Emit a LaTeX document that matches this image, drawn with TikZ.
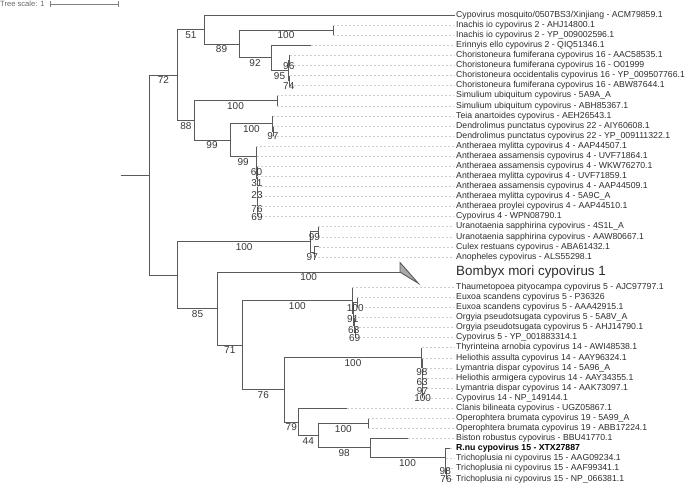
\documentclass[tikz,border=0pt]{standalone}
\usepackage{fontspec}
\setmainfont{Liberation Sans}
\usetikzlibrary{calc}

\definecolor{branchc}{RGB}{90,90,90}
\definecolor{leafc}{RGB}{45,45,45}
\definecolor{suppc}{RGB}{55,55,55}
\definecolor{dotc}{RGB}{205,205,205}
\definecolor{tric}{RGB}{170,170,170}

\begin{document}
\begin{tikzpicture}[x=1pt, y=-1pt,
    branch/.style={draw=branchc, line width=0.9pt},
    leader/.style={draw=dotc, line width=0.5pt, dash pattern=on 2pt off 2pt, shorten >=2pt},
    leaf/.style={anchor=west, inner sep=0pt, text=leafc, font=\fontsize{8.7}{9.5}\selectfont},
    bs/.style={below=1pt, inner sep=0.5pt, text=suppc, font=\fontsize{10}{10}\selectfont}]
    \useasboundingbox (0,0) rectangle (685,485);

    % scale bar
    \coordinate (sb1) at (50,4);
    \coordinate (sb2) at (118,4);
    \node[anchor=west, inner sep=0pt, text=gray!80!black, font=\fontsize{7.6}{8}\selectfont] (ts) at (0,4) {Tree scale: 1};
    \draw[gray, line width=0.5pt, |-|] (sb1) -- (sb2);

    % internal nodes
    \coordinate (root0) at (120.7,175.1);
    \coordinate (root) at (149,175.1);
    \coordinate (A) at (177.7,75.0);
    \coordinate (C) at (204,29.5);
    \coordinate (D) at (239,44.0);
    \coordinate (In) at (333,30.1);
    \coordinate (E) at (271,57.9);
    \coordinate (F) at (288,70.5);
    \coordinate (G) at (289.5,60.4);
    \coordinate (H) at (289.5,80.5);
    \coordinate (I) at (194,120.4);
    \coordinate (Sim) at (277,100.7);
    \coordinate (J) at (230,140.0);
    \coordinate (K) at (272.7,123.4);
    \coordinate (Ld) at (273.2,131.0);
    \coordinate (M) at (256.3,156.6);
    \coordinate (N) at (256.8,167.2);
    \coordinate (S) at (257,178.2);
    \coordinate (T) at (257,190.2);
    \coordinate (R) at (257,204.0);
    \coordinate (Q) at (257,211.6);
    \coordinate (B) at (177.7,275.3);
    \coordinate (U) at (310.5,241.9);
    \coordinate (V) at (318.3,231.8);
    \coordinate (W) at (314,252.0);
    \coordinate (X) at (217.3,308.6);
    \coordinate (Bm) at (400,272.1);
    \coordinate (bm1) at (400,262.5);
    \coordinate (bm2) at (418.3,283.3);
    \coordinate (Y) at (242.3,345.1);
    \coordinate (Z) at (352.3,300.5);
    \coordinate (Z1) at (353.2,313.7);
    \coordinate (Z2) at (357.3,302.4);
    \coordinate (Z3) at (354.3,325.0);
    \coordinate (Z4) at (355,332.6);
    \coordinate (AA) at (284.3,389.8);
    \coordinate (BB) at (421.7,357.5);
    \coordinate (B1) at (422,367.3);
    \coordinate (B2) at (422.3,376.7);
    \coordinate (B3) at (422.5,385.6);
    \coordinate (B4) at (422.7,393.1);
    \coordinate (CC) at (298.3,422.0);
    \coordinate (DD) at (318.3,435.7);
    \coordinate (EE) at (368.3,423.4);
    \coordinate (FF) at (370,447.9);
    \coordinate (GG) at (445,457.4);
    \coordinate (HH) at (445.5,466.2);
    \coordinate (II) at (446.5,473.8);

    % leaf tips
    \coordinate (t1) at (455,15.0);
    \coordinate (t2) at (333,25.1);
    \coordinate (t3) at (333,35.2);
    \coordinate (t4) at (310.7,45.3);
    \coordinate (t5) at (289.5,55.3);
    \coordinate (t6) at (289.5,65.4);
    \coordinate (t7) at (289.5,75.5);
    \coordinate (t8) at (289.5,85.6);
    \coordinate (t9) at (277,95.7);
    \coordinate (t10) at (277,105.8);
    \coordinate (t11) at (272.7,115.8);
    \coordinate (t12) at (273.2,125.9);
    \coordinate (t13) at (273.2,136.0);
    \coordinate (t14) at (256.3,146.1);
    \coordinate (t15) at (256.8,156.2);
    \coordinate (t16) at (257,166.3);
    \coordinate (t17) at (257,176.3);
    \coordinate (t18) at (257,186.4);
    \coordinate (t19) at (257,196.5);
    \coordinate (t20) at (257,206.6);
    \coordinate (t21) at (257,216.7);
    \coordinate (t22) at (318.3,226.7);
    \coordinate (t23) at (318.3,236.8);
    \coordinate (t24) at (319,246.9);
    \coordinate (t25) at (314,257.0);
    \coordinate (t26) at (352.3,287.2);
    \coordinate (t27) at (357.3,297.3);
    \coordinate (t28) at (357.3,307.4);
    \coordinate (t29) at (354.3,317.5);
    \coordinate (t30) at (355,327.6);
    \coordinate (t31) at (355,337.7);
    \coordinate (t32) at (421.7,347.7);
    \coordinate (t33) at (422,357.8);
    \coordinate (t34) at (422.3,367.9);
    \coordinate (t35) at (422.5,378.0);
    \coordinate (t36) at (422.7,388.1);
    \coordinate (t37) at (422.7,398.2);
    \coordinate (t38) at (347.3,408.2);
    \coordinate (t39) at (368.3,418.3);
    \coordinate (t40) at (368.3,428.4);
    \coordinate (t41) at (408,438.5);
    \coordinate (t42) at (450,448.6);
    \coordinate (t43) at (445.5,458.7);
    \coordinate (t44) at (446.5,468.7);
    \coordinate (t45) at (446.5,478.8);
    \coordinate (lx) at (456,0);

    % branches
    \draw[branch] (root0) -- (root);
    \draw[branch] (root) |- (A) (root) |- (B);
    \draw[branch] (A) |- (C) (A) |- (I);
    \draw[branch] (C) |- (t1) (C) |- (D);
    \draw[branch] (D) |- (In) (D) |- (E);
    \draw[branch] (In) |- (t2) (In) |- (t3);
    \draw[branch] (E) |- (t4) (E) |- (F);
    \draw[branch] (F) |- (G) (F) |- (H);
    \draw[branch] (G) |- (t5) (G) |- (t6);
    \draw[branch] (H) |- (t7) (H) |- (t8);
    \draw[branch] (I) |- (Sim) (I) |- (J);
    \draw[branch] (Sim) |- (t9) (Sim) |- (t10);
    \draw[branch] (J) |- (K) (J) |- (M);
    \draw[branch] (K) |- (t11) (K) |- (Ld);
    \draw[branch] (Ld) |- (t12) (Ld) |- (t13);
    \draw[branch] (M) |- (t14) (M) |- (N);
    \draw[branch] (N) |- (t15) (N) |- (S);
    \draw[branch] (S) |- (t16) (S) |- (T);
    \draw[branch] (T) |- (t17) (T) |- (t18) (T) |- (R);
    \draw[branch] (R) |- (t19) (R) |- (Q);
    \draw[branch] (Q) |- (t20) (Q) |- (t21);
    \draw[branch] (B) |- (U) (B) |- (X);
    \draw[branch] (U) |- (V) (U) |- (W);
    \draw[branch] (V) |- (t22) (V) |- (t23);
    \draw[branch] (W) |- (t24) (W) |- (t25);
    \draw[branch] (X) |- (Bm) (X) |- (Y);
    \draw[branch, fill=tric] (Bm) -- (bm1) -- (bm2) -- cycle;
    \draw[branch] (Y) |- (Z) (Y) |- (AA);
    \draw[branch] (Z) |- (t26) (Z) |- (Z1);
    \draw[branch] (Z1) |- (Z2) (Z1) |- (Z3);
    \draw[branch] (Z2) |- (t27) (Z2) |- (t28);
    \draw[branch] (Z3) |- (t29) (Z3) |- (Z4);
    \draw[branch] (Z4) |- (t30) (Z4) |- (t31);
    \draw[branch] (AA) |- (BB) (AA) |- (CC);
    \draw[branch] (BB) |- (t32) (BB) |- (B1);
    \draw[branch] (B1) |- (t33) (B1) |- (B2);
    \draw[branch] (B2) |- (t34) (B2) |- (B3);
    \draw[branch] (B3) |- (t35) (B3) |- (B4);
    \draw[branch] (B4) |- (t36) (B4) |- (t37);
    \draw[branch] (CC) |- (t38) (CC) |- (DD);
    \draw[branch] (DD) |- (EE) (DD) |- (FF);
    \draw[branch] (EE) |- (t39) (EE) |- (t40);
    \draw[branch] (FF) |- (t41) (FF) |- (GG);
    \draw[branch] (GG) |- (t42) (GG) |- (HH);
    \draw[branch] (HH) |- (t43) (HH) |- (II);
    \draw[branch] (II) |- (t44) (II) |- (t45);

    % leaf labels
    \node[leaf] (lab1) at (t1 -| lx) {Cypovirus mosquito/0507BS3/Xinjiang - ACM79859.1};
    \node[leaf] (lab2) at (t2 -| lx) {Inachis io cypovirus 2 - AHJ14800.1};
    \node[leaf] (lab3) at (t3 -| lx) {Inachis io cypovirus 2 - YP\_009002596.1};
    \node[leaf] (lab4) at (t4 -| lx) {Erinnyis ello cypovirus 2 - QIQ51346.1};
    \node[leaf] (lab5) at (t5 -| lx) {Choristoneura fumiferana cypovirus 16 - AAC58535.1};
    \node[leaf] (lab6) at (t6 -| lx) {Choristoneura fumiferana cypovirus 16 - O01999};
    \node[leaf] (lab7) at (t7 -| lx) {Choristoneura occidentalis cypovirus 16 - YP\_009507766.1};
    \node[leaf] (lab8) at (t8 -| lx) {Choristoneura fumiferana cypovirus 16 - ABW87644.1};
    \node[leaf] (lab9) at (t9 -| lx) {Simulium ubiquitum cypovirus - 5A9A\_A};
    \node[leaf] (lab10) at (t10 -| lx) {Simulium ubiquitum cypovirus - ABH85367.1};
    \node[leaf] (lab11) at (t11 -| lx) {Teia anartoides cypovirus - AEH26543.1};
    \node[leaf] (lab12) at (t12 -| lx) {Dendrolimus punctatus cypovirus 22 - AIY60608.1};
    \node[leaf] (lab13) at (t13 -| lx) {Dendrolimus punctatus cypovirus 22 - YP\_009111322.1};
    \node[leaf] (lab14) at (t14 -| lx) {Antheraea mylitta cypovirus 4 - AAP44507.1};
    \node[leaf] (lab15) at (t15 -| lx) {Antheraea assamensis cypovirus 4 - UVF71864.1};
    \node[leaf] (lab16) at (t16 -| lx) {Antheraea assamensis cypovirus 4 - WKW76270.1};
    \node[leaf] (lab17) at (t17 -| lx) {Antheraea mylitta cypovirus 4 - UVF71859.1};
    \node[leaf] (lab18) at (t18 -| lx) {Antheraea assamensis cypovirus 4 - AAP44509.1};
    \node[leaf] (lab19) at (t19 -| lx) {Antheraea mylitta cypovirus 4 - 5A9C\_A};
    \node[leaf] (lab20) at (t20 -| lx) {Antheraea proylei cypovirus 4 - AAP44510.1};
    \node[leaf] (lab21) at (t21 -| lx) {Cypovirus 4 - WPN08790.1};
    \node[leaf] (lab22) at (t22 -| lx) {Uranotaenia sapphirina cypovirus - 4S1L\_A};
    \node[leaf] (lab23) at (t23 -| lx) {Uranotaenia sapphirina cypovirus - AAW80667.1};
    \node[leaf] (lab24) at (t24 -| lx) {Culex restuans cypovirus - ABA61432.1};
    \node[leaf] (lab25) at (t25 -| lx) {Anopheles cypovirus - ALS55298.1};
    \node[leaf, font=\fontsize{13.4}{14}\selectfont] (labbm) at (Bm -| lx) {Bombyx mori cypovirus 1};
    \node[leaf] (lab26) at (t26 -| lx) {Thaumetopoea pityocampa cypovirus 5 - AJC97797.1};
    \node[leaf] (lab27) at (t27 -| lx) {Euxoa scandens cypovirus 5 - P36326};
    \node[leaf] (lab28) at (t28 -| lx) {Euxoa scandens cypovirus 5 - AAA42915.1};
    \node[leaf] (lab29) at (t29 -| lx) {Orgyia pseudotsugata cypovirus 5 - 5A8V\_A};
    \node[leaf] (lab30) at (t30 -| lx) {Orgyia pseudotsugata cypovirus 5 - AHJ14790.1};
    \node[leaf] (lab31) at (t31 -| lx) {Cypovirus 5 - YP\_001883314.1};
    \node[leaf] (lab32) at (t32 -| lx) {Thyrinteina arnobia cypovirus 14 - AWI48538.1};
    \node[leaf] (lab33) at (t33 -| lx) {Heliothis assulta cypovirus 14 - AAY96324.1};
    \node[leaf] (lab34) at (t34 -| lx) {Lymantria dispar cypovirus 14 - 5A96\_A};
    \node[leaf] (lab35) at (t35 -| lx) {Heliothis armigera cypovirus 14 - AAY34355.1};
    \node[leaf] (lab36) at (t36 -| lx) {Lymantria dispar cypovirus 14 - AAK73097.1};
    \node[leaf] (lab37) at (t37 -| lx) {Cypovirus 14 - NP\_149144.1};
    \node[leaf] (lab38) at (t38 -| lx) {Clanis bilineata cypovirus - UGZ05867.1};
    \node[leaf] (lab39) at (t39 -| lx) {Operophtera brumata cypovirus 19 - 5A99\_A};
    \node[leaf] (lab40) at (t40 -| lx) {Operophtera brumata cypovirus 19 - ABB17224.1};
    \node[leaf] (lab41) at (t41 -| lx) {Biston robustus cypovirus - BBU41770.1};
    \node[leaf, text=black] (lab42) at (t42 -| lx) {\bfseries R.nu cypovirus 15 - XTX27887};
    \node[leaf] (lab43) at (t43 -| lx) {Trichoplusia ni cypovirus 15 - AAG09234.1};
    \node[leaf] (lab44) at (t44 -| lx) {Trichoplusia ni cypovirus 15 - AAF99341.1};
    \node[leaf] (lab45) at (t45 -| lx) {Trichoplusia ni cypovirus 15 - NP\_066381.1};

    \foreach \i in {2,...,45}
        \draw[leader] (t\i) -- (lab\i.west);

    % support values
    \node[bs] at ($(root|-A)!0.5!(A)$) {72};
    \node[bs] at ($(A|-C)!0.5!(C)$) {51};
    \node[bs] at ($(C|-D)!0.5!(D)$) {89};
    \node[bs] at ($(D|-In)!0.5!(In)$) {100};
    \node[bs] at ($(D|-E)!0.5!(E)$) {92};
    \node[bs] at ($(E|-F)!0.5!(F)$) {95};
    \node[bs] at ($(F|-G)!0.5!(G)$) {96};
    \node[bs] at ($(F|-H)!0.5!(H)$) {74};
    \node[bs] at ($(A|-I)!0.5!(I)$) {88};
    \node[bs] at ($(I|-Sim)!0.5!(Sim)$) {100};
    \node[bs] at ($(I|-J)!0.5!(J)$) {99};
    \node[bs] at ($(J|-K)!0.5!(K)$) {100};
    \node[bs] at ($(K|-Ld)!0.5!(Ld)$) {97};
    \node[bs] at ($(J|-M)!0.5!(M)$) {99};
    \node[bs] at ($(M|-N)!0.5!(N)$) {60};
    \node[bs] at ($(N|-S)!0.5!(S)$) {31};
    \node[bs] at ($(S|-T)!0.5!(T)$) {23};
    \node[bs] at ($(T|-R)!0.5!(R)$) {76};
    \node[bs] at ($(R|-Q)!0.5!(Q)$) {69};
    \node[bs] at ($(B|-U)!0.5!(U)$) {100};
    \node[bs] at ($(U|-V)!0.5!(V)$) {99};
    \node[bs] at ($(U|-W)!0.5!(W)$) {97};
    \node[bs] at ($(X|-Bm)!0.5!(Bm)$) {100};
    \node[bs] at ($(B|-X)!0.5!(X)$) {85};
    \node[bs] at ($(X|-Y)!0.5!(Y)$) {71};
    \node[bs] at ($(Y|-Z)!0.5!(Z)$) {100};
    \node[bs] at ($(Z|-Z1)!0.5!(Z1)$) {91};
    \node[bs] at ($(Z1|-Z2)!0.5!(Z2)$) {100};
    \node[bs] at ($(Z1|-Z3)!0.5!(Z3)$) {63};
    \node[bs] at ($(Z3|-Z4)!0.5!(Z4)$) {69};
    \node[bs] at ($(Y|-AA)!0.5!(AA)$) {76};
    \node[bs] at ($(AA|-BB)!0.5!(BB)$) {100};
    \node[bs] at ($(BB|-B1)!0.5!(B1)$) {98};
    \node[bs] at ($(B1|-B2)!0.5!(B2)$) {63};
    \node[bs] at ($(B2|-B3)!0.5!(B3)$) {97};
    \node[bs] at ($(B3|-B4)!0.5!(B4)$) {100};
    \node[bs] at ($(AA|-CC)!0.5!(CC)$) {79};
    \node[bs] at ($(CC|-DD)!0.5!(DD)$) {44};
    \node[bs] at ($(DD|-EE)!0.5!(EE)$) {100};
    \node[bs] at ($(DD|-FF)!0.5!(FF)$) {98};
    \node[bs] at ($(FF|-GG)!0.5!(GG)$) {100};
    \node[bs] at ($(GG|-HH)!0.5!(HH)$) {98};
    \node[bs] at ($(HH|-II)!0.5!(II)$) {76};
\end{tikzpicture}
\end{document}
